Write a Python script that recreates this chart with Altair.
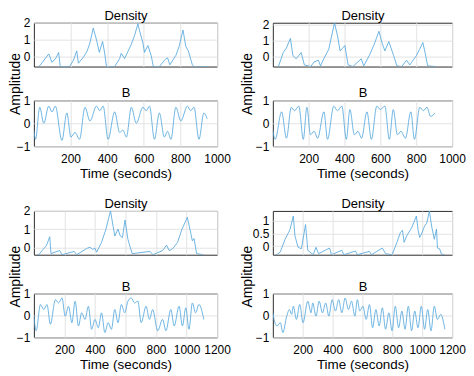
import altair as alt
import pandas as pd

FONT = "Liberation Sans"
LINE = "#55a9de"
FRAME = "#2b2b2b"
GRID = "#e3e3e3"

# ---------------- data (time in seconds, amplitude) ----------------
tl_d_t = [25, 32, 50, 81, 99, 120, 135, 144, 195, 216, 234, 243, 270, 290, 306, 324, 342, 357, 375, 387, 396, 441, 468, 477, 495, 531, 550, 568, 575, 595, 604, 622, 640, 652, 685, 721, 730, 742, 775, 793, 814, 829, 843, 865, 874, 950]
tl_d_v = [-0.6, -0.55, -0.3, 0.15, -0.35, -0.1, 0.24, -0.6, -0.6, -0.22, 0.33, -0.4, -0.05, 0.3, 0.8, 1.68, 0.98, 0.24, 0.89, 0.15, -0.6, -0.6, -0.13, 0.19, -0.13, 0.7, 1.26, 1.94, 1.6, 0.8, 0.24, 0.65, 0.06, -0.6, -0.6, -0.13, -0.09, -0.5, 0.06, 0.6, 1.57, 0.6, 0.33, -0.5, -0.6, -0.6]

tl_b_t = [0, 9, 32, 54, 81, 99, 117, 153, 180, 202, 225, 249, 279, 306, 342, 360, 378, 405, 441, 468, 486, 505, 532, 559, 595, 613, 631, 658, 685, 712, 730, 748, 775, 802, 838, 856, 874, 901, 928, 946]
tl_b_v = [-0.3, -0.7, 0.7, 0.0, 0.75, 0.5, 0.75, -0.75, 0.45, -0.6, -0.4, -0.7, 0.7, 0.1, 0.75, 0.55, 0.75, -0.7, 0.5, -0.4, -0.3, -0.6, 0.7, 0.0, 0.7, 0.55, 0.75, -0.7, 0.45, -0.6, -0.35, -0.7, 0.7, 0.1, 0.75, 0.55, 0.7, -0.7, 0.45, 0.2]

tr_d_t = [20, 31, 58, 76, 98, 112, 130, 158, 176, 212, 230, 254, 266, 284, 312, 344, 362, 375, 402, 420, 447, 493, 507, 538, 565, 592, 610, 625, 647, 674, 692, 719, 746, 764, 801, 819, 837, 851, 864, 910]
tr_d_v = [-0.62, -0.62, 0.25, 0.54, 1.13, 0.06, -0.14, 0.25, -0.52, -0.62, -0.33, -0.23, -0.58, -0.14, 0.45, 2.1, 1.22, 0.35, 0.68, -0.52, -0.62, -0.14, -0.58, 0.06, 0.74, 1.57, 0.83, 0.35, 0.93, 0.06, -0.58, -0.62, -0.23, -0.52, 0.06, 0.45, 0.87, 0.16, -0.58, -0.62]

tr_b_t = [0, 13, 49, 76, 103, 121, 145, 170, 190, 210, 230, 250, 285, 305, 340, 360, 385, 410, 430, 455, 475, 495, 525, 550, 580, 600, 625, 650, 672, 695, 715, 740, 770, 790, 820, 840, 860, 880, 905]
tr_b_v = [-0.3, -0.7, 0.5, -0.65, 0.7, 0.55, 0.75, -0.7, 0.7, -0.5, -0.35, -0.65, 0.5, -0.7, 0.75, 0.55, 0.75, -0.7, 0.6, -0.5, -0.35, -0.65, 0.5, -0.7, 0.75, 0.6, 0.75, -0.7, 0.6, -0.5, -0.35, -0.65, 0.5, -0.7, 0.7, 0.55, 0.7, 0.3, 0.45]

bl_d_t = [20, 32, 54, 82, 104, 112, 169, 184, 264, 280, 350, 368, 385, 400, 411, 443, 471, 502, 519, 530, 551, 566, 580, 597, 616, 631, 644, 761, 780, 843, 869, 886, 908, 941, 969, 1005, 1027, 1038, 1049, 1066, 1110]
bl_d_v = [-0.41, -0.41, -0.18, 0.09, 0.58, -0.35, -0.18, -0.41, -0.23, -0.41, -0.05, 0.0, -0.12, -0.05, -0.27, 0.27, 0.97, 2.0, 1.15, 0.62, 1.0, 0.62, 0.53, 1.5, 0.44, 0.0, -0.35, -0.23, -0.41, -0.18, 0.12, -0.18, -0.09, 0.27, 0.97, 1.65, 0.8, 0.35, 0.48, -0.35, -0.41]

bl_b_t = [0, 15, 43, 65, 86, 108, 141, 162, 184, 205, 227, 249, 270, 292, 313, 335, 357, 378, 400, 422, 443, 465, 486, 508, 530, 551, 573, 595, 616, 638, 659, 681, 703, 735, 757, 778, 811, 843, 865, 897, 919, 951, 973, 995, 1016, 1038, 1059, 1081, 1113]
bl_b_v = [-0.03, -0.7, 0.5, 0.27, 0.5, -0.4, 0.72, 0.57, 0.8, -0.03, 0.42, -0.33, 0.65, -0.48, 0.12, -0.18, 0.42, -0.63, -0.18, -0.56, 0.12, -0.78, -0.33, -0.63, 0.27, -0.33, 0.5, 0.12, 0.65, 0.8, 0.57, 0.65, -0.33, 0.42, -0.18, 0.27, -0.7, -0.18, -0.7, 0.27, -0.48, 0.42, -0.48, 0.35, -0.63, 0.57, 0.12, 0.5, -0.18]

br_d_t = [20, 28, 50, 82, 104, 115, 137, 148, 169, 191, 219, 234, 270, 289, 306, 380, 392, 462, 475, 553, 566, 647, 660, 733, 755, 799, 831, 853, 868, 879, 896, 929, 961, 972, 983, 994, 1016, 1031, 1048, 1063, 1081, 1096, 1102, 1117, 1128, 1150]
br_d_v = [-0.33, -0.33, -0.22, 0.27, 0.52, 0.65, 1.17, 0.4, -0.04, -0.1, 0.84, -0.16, -0.33, -0.04, -0.29, -0.07, -0.33, -0.16, -0.33, -0.19, -0.33, -0.2, -0.33, -0.07, -0.29, -0.33, 0.15, 0.52, 0.62, 0.15, 0.4, 0.71, 1.17, 0.65, 0.34, 0.46, 0.78, 0.9, 1.37, 0.78, 0.27, 0.67, -0.07, -0.1, -0.3, -0.33]

br_b_t = [0, 11, 28, 50, 67, 93, 111, 126, 137, 158, 180, 202, 234, 256, 267, 289, 310, 332, 354, 375, 397, 419, 441, 462, 484, 506, 527, 549, 566, 582, 603, 625, 647, 668, 690, 712, 733, 755, 777, 798, 820, 842, 864, 885, 907, 929, 950, 972, 994, 1016, 1037, 1059, 1081, 1102, 1124, 1152]
br_b_v = [0.12, -0.26, -0.48, -0.33, -0.78, -0.03, 0.27, 0.05, 0.42, -0.18, 0.5, -0.33, 0.65, 0.12, 0.57, -0.03, 0.65, 0.12, 0.57, -0.03, 0.72, 0.2, 0.72, 0.12, 0.8, 0.27, 0.65, -0.03, 0.72, 0.2, 0.42, -0.18, 0.5, -0.56, 0.27, -0.48, 0.35, -0.63, 0.12, -0.7, 0.42, -0.56, 0.2, -0.63, 0.42, -0.7, 0.2, -0.56, 0.42, -0.63, 0.27, -0.7, 0.42, -0.18, 0.05, -0.63]

x_ticks_1000 = [200, 400, 600, 800, 1000]
x_ticks_1200 = [200, 400, 600, 800, 1000, 1200]
b_ticks = [-1, 0, 1]

VIEW = alt.ViewBackground(stroke=FRAME, strokeWidth=1, fill="white")


def xscale(dom):
    return alt.Scale(domain=dom, nice=False, zero=False)


def yaxis(values, **kw):
    return alt.Axis(values=values, ticks=True, tickSize=0, domain=False, grid=True,
                    gridColor=GRID, labelPadding=4, format="~g", labelOverlap=False,
                    labelFlush=False, labelFontSize=12, **kw)


def top_title_axis(text, grid):
    return alt.Axis(orient="top", labels=False, ticks=True, tickSize=0, domain=False,
                    grid=grid, gridColor=GRID, title=text, titlePadding=0,
                    titleFontSize=13, titleFontWeight="normal")


def density(t, v, xdom, xticks, ydom, yticks, w, h):
    df = pd.DataFrame({"t": t, "v": v})
    ax = top_title_axis("Density", True)
    ax.values = xticks
    return alt.Chart(df).mark_line(color=LINE, strokeWidth=0.85, clip=True).encode(
        x=alt.X("t:Q", scale=xscale(xdom), axis=ax),
        y=alt.Y("v:Q", scale=alt.Scale(domain=ydom, nice=False, zero=False),
                axis=yaxis(yticks, title=None)),
    ).properties(width=w, height=h, view=VIEW)


def bpanel(t, v, xdom, xticks, w, h, tx, ty):
    df = pd.DataFrame({"t": t, "v": v})
    y = alt.Y("v:Q", scale=alt.Scale(domain=[-1, 1], nice=False, zero=False),
              axis=yaxis(b_ticks, title="Amplitude", titleFontSize=14,
                         titleFontWeight="normal", titleAngle=270,
                         titleBaseline="bottom", titleAlign="center",
                         titleX=tx, titleY=ty))
    line = alt.Chart(df).mark_line(color=LINE, strokeWidth=0.85, clip=True,
                                   interpolate="monotone").encode(
        x=alt.X("t:Q", scale=xscale(xdom),
                axis=alt.Axis(values=xticks, ticks=True, tickSize=0, domain=False,
                              grid=True, gridColor=GRID, labelPadding=7, format="d",
                              labelOverlap=False, labelFlush=False, labelFontSize=12,
                              title="Time (seconds)", titlePadding=2,
                              titleFontSize=13.5, titleFontWeight="normal")),
        y=y,
    )
    ghost = alt.Chart(df).mark_line(opacity=0, clip=True).encode(
        x=alt.X("t:Q", scale=xscale(xdom), axis=top_title_axis("B", False)),
        y=y,
    )
    return alt.layer(line, ghost).resolve_axis(x="independent").properties(
        width=w, height=h, view=VIEW)


WL, WR = 184, 180

g_tl = alt.vconcat(
    density(tl_d_t, tl_d_v, [0, 1000], x_ticks_1000, [-0.6, 2.0], [0, 1, 2], WL, 44),
    bpanel(tl_b_t, tl_b_v, [0, 1000], x_ticks_1000, WL, 46, -11, -17),
    spacing=-16,
)
g_tr = alt.vconcat(
    density(tr_d_t, tr_d_v, [0, 1000], x_ticks_1000, [-0.62, 2.1], [0, 1, 2], WR, 44),
    bpanel(tr_b_t, tr_b_v, [0, 1000], x_ticks_1000, WR, 46, -18, -17),
    spacing=-16,
)
g_bl = alt.vconcat(
    density(bl_d_t, bl_d_v, [0, 1200], x_ticks_1200, [-0.41, 2.0], [0, 1, 2], WL, 44),
    bpanel(bl_b_t, bl_b_v, [0, 1200], x_ticks_1200, WL, 44, -11, -17.5),
    spacing=-12,
)
g_br = alt.vconcat(
    density(br_d_t, br_d_v, [0, 1200], x_ticks_1200, [-0.33, 1.37], [0, 0.5, 1], WR, 44),
    bpanel(br_b_t, br_b_v, [0, 1200], x_ticks_1200, WR, 44, -18, -17.5),
    spacing=-12,
)

row1 = alt.hconcat(g_tl, g_tr, spacing=9)
row2 = alt.hconcat(g_bl, g_br, spacing=9)

chart = alt.vconcat(row1, row2, spacing=17).properties(
    padding=0, background="white"
).configure_axis(
    labelFont=FONT, titleFont=FONT, labelColor="#000000", titleColor="#000000",
).configure_view(
    stroke=FRAME, strokeWidth=1,
)

chart.save("out.html", embed_options={"renderer": "svg", "actions": False})
